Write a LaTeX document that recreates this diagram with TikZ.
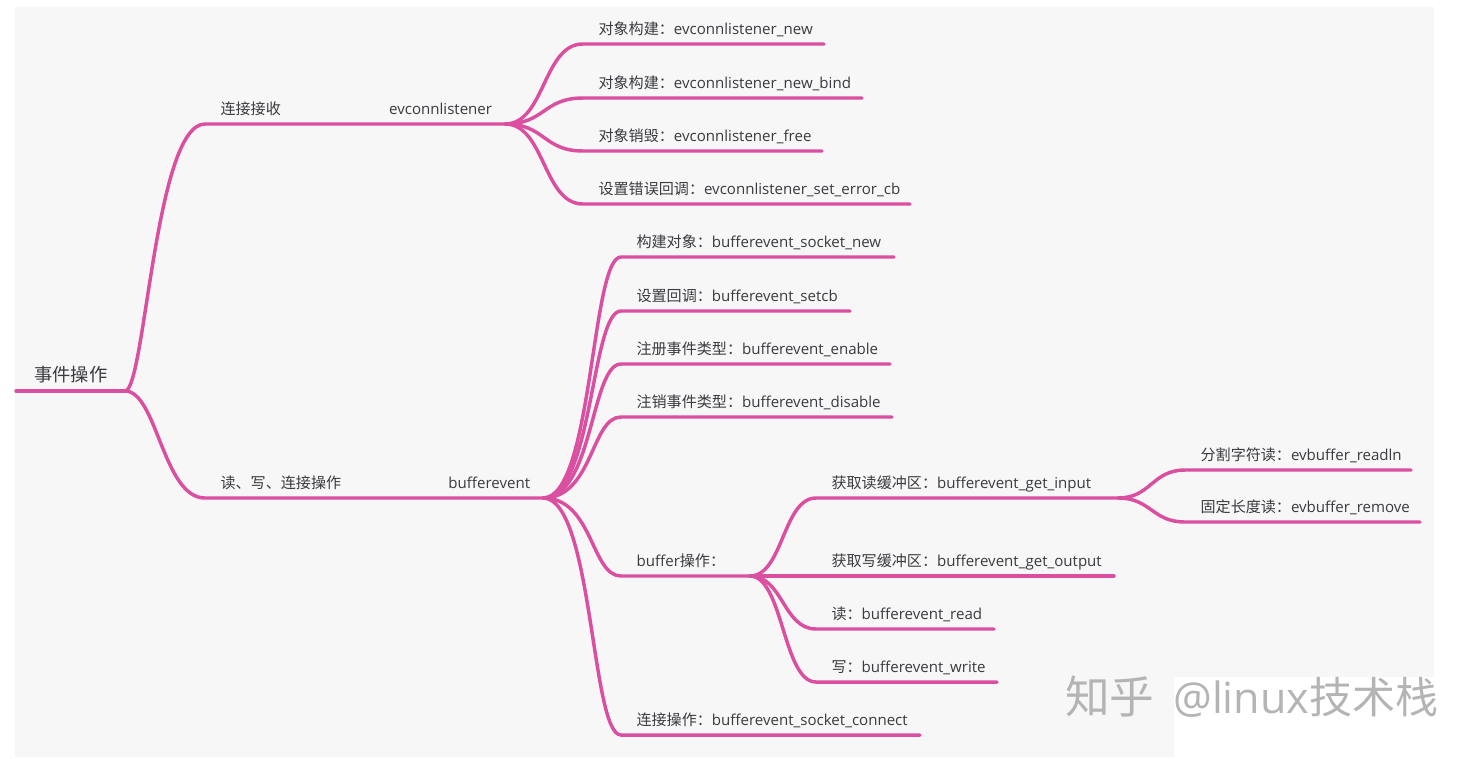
\documentclass[tikz,border=0pt]{standalone}
\usepackage{fontspec}
\setmainfont{Open Sans}
\newfontfamily\cjk{Noto Sans CJK SC}
\usetikzlibrary{positioning}
\definecolor{branchpink}{HTML}{DB4FA0}
\definecolor{panelgray}{HTML}{F7F7F7}
\definecolor{inkgray}{HTML}{3A3A40}
\definecolor{markgray}{HTML}{B4B4B4}

\begin{document}
\begin{tikzpicture}[x=0.75pt, y=-0.75pt, node distance=4.2pt and 11.5pt]
      \tikzstyle{topic} = [inner sep=0pt, text height=9pt, text depth=3pt, text=inkgray, font=\fontsize{11.3pt}{13pt}\selectfont]
      \tikzstyle{rootic} = [inner sep=0pt, text height=11pt, text depth=3pt, text=inkgray, font=\fontsize{13.7pt}{16pt}\selectfont]
      \tikzstyle{branch} = [line width=2.6pt, draw=branchpink, line cap=round]
      \tikzstyle{watermark} = [inner sep=0pt, anchor=west, text=markgray, font=\fontsize{32.3pt}{36pt}\selectfont]

      \useasboundingbox (0,0) rectangle (1476,758);
      \fill [panelgray] (15,7) -- (1434,7) -- (1434,677) -- (1174,677) -- (1174,757) -- (15,757) -- cycle;

      % root
      \coordinate (rootleft) at (16,391);
      \coordinate (root) at (125,391);
      \node (event) [rootic, above right=4.2pt and 13.5pt of rootleft] {\cjk 事件操作};
      \draw [branch] (rootleft) -- (root);

      % first level
      \coordinate (linkstart) at (205,124);
      \coordinate (linkfork) at (505,124);
      \coordinate (rwstart) at (205,498);
      \coordinate (rwfork) at (543,498);
      \node (link) [topic, above right= of linkstart] {\cjk 连接接收};
      \node (listener) [topic, above left=4.2pt and 9.5pt of linkfork] {evconnlistener};
      \node (rw) [topic, above right= of rwstart] {\cjk 读、写、连接操作};
      \node (bev) [topic, above left=4.2pt and 9.5pt of rwfork] {bufferevent};
      \draw [branch] (root) .. controls +(20,0) and +(-50,0) .. (linkstart) -- (linkfork);
      \draw [branch] (root) .. controls +(32,0) and +(-42,0) .. (rwstart) -- (rwfork);

      % evconnlistener
      \coordinate (newstart) at (583,44);
      \coordinate (newend) at (824,44);
      \coordinate (bindstart) at (583,98);
      \coordinate (bindend) at (862,98);
      \coordinate (freestart) at (583,151);
      \coordinate (freeend) at (822,151);
      \coordinate (errstart) at (583,204);
      \coordinate (errend) at (910,204);
      \node (new) [topic, above right= of newstart] {{\cjk 对象构建：}evconnlistener\_new};
      \node (bind) [topic, above right= of bindstart] {{\cjk 对象构建：}evconnlistener\_new\_bind};
      \node (free) [topic, above right= of freestart] {{\cjk 对象销毁：}evconnlistener\_free};
      \node (err) [topic, above right= of errstart] {{\cjk 设置错误回调：}evconnlistener\_set\_error\_cb};
      \draw [branch] (linkfork) .. controls +(40,0) and +(-40,0) .. (newstart) -- (newend);
      \draw [branch] (linkfork) .. controls +(40,0) and +(-40,0) .. (bindstart) -- (bindend);
      \draw [branch] (linkfork) .. controls +(40,0) and +(-40,0) .. (freestart) -- (freeend);
      \draw [branch] (linkfork) .. controls +(40,0) and +(-40,0) .. (errstart) -- (errend);

      % bufferevent
      \coordinate (sockstart) at (621,257);
      \coordinate (sockend) at (894,257);
      \coordinate (setcbstart) at (621,311);
      \coordinate (setcbend) at (850,311);
      \coordinate (enablestart) at (621,364);
      \coordinate (enableend) at (890,364);
      \coordinate (disablestart) at (621,417);
      \coordinate (disableend) at (892,417);
      \coordinate (bufstart) at (621,576);
      \coordinate (buffork) at (750,576);
      \coordinate (connstart) at (621,735);
      \coordinate (connend) at (920,735);
      \node (sock) [topic, above right= of sockstart] {{\cjk 构建对象：}bufferevent\_socket\_new};
      \node (setcb) [topic, above right= of setcbstart] {{\cjk 设置回调：}bufferevent\_setcb};
      \node (enable) [topic, above right= of enablestart] {{\cjk 注册事件类型：}bufferevent\_enable};
      \node (disable) [topic, above right= of disablestart] {{\cjk 注销事件类型：}bufferevent\_disable};
      \node (buf) [topic, above right= of bufstart] {buffer{\cjk 操作：}};
      \node (conn) [topic, above right= of connstart] {{\cjk 连接操作：}bufferevent\_socket\_connect};
      \draw [branch] (rwfork) .. controls +(50,0) and +(-30,0) .. (sockstart) -- (sockend);
      \draw [branch] (rwfork) .. controls +(50,0) and +(-30,0) .. (setcbstart) -- (setcbend);
      \draw [branch] (rwfork) .. controls +(50,0) and +(-30,0) .. (enablestart) -- (enableend);
      \draw [branch] (rwfork) .. controls +(50,0) and +(-30,0) .. (disablestart) -- (disableend);
      \draw [branch] (rwfork) .. controls +(50,0) and +(-30,0) .. (bufstart) -- (buffork);
      \draw [branch] (rwfork) .. controls +(50,0) and +(-30,0) .. (connstart) -- (connend);

      % buffer
      \coordinate (inputstart) at (816,498);
      \coordinate (inputfork) at (1118,498);
      \coordinate (outputstart) at (816,576);
      \coordinate (outputend) at (1114,576);
      \coordinate (readstart) at (816,629);
      \coordinate (readend) at (994,629);
      \coordinate (writestart) at (816,682);
      \coordinate (writeend) at (997,682);
      \node (input) [topic, above right= of inputstart] {{\cjk 获取读缓冲区：}bufferevent\_get\_input};
      \node (output) [topic, above right= of outputstart] {{\cjk 获取写缓冲区：}bufferevent\_get\_output};
      \node (read) [topic, above right= of readstart] {{\cjk 读：}bufferevent\_read};
      \node (write) [topic, above right= of writestart] {{\cjk 写：}bufferevent\_write};
      \draw [branch] (buffork) .. controls +(33,0) and +(-33,0) .. (inputstart) -- (inputfork);
      \draw [branch] (buffork) -- (outputstart) -- (outputend);
      \draw [branch] (buffork) .. controls +(33,0) and +(-33,0) .. (readstart) -- (readend);
      \draw [branch] (buffork) .. controls +(33,0) and +(-33,0) .. (writestart) -- (writeend);

      % evbuffer
      \coordinate (readlnstart) at (1185,470);
      \coordinate (readlnend) at (1411,470);
      \coordinate (removestart) at (1185,522);
      \coordinate (removeend) at (1420,522);
      \node (readln) [topic, above right= of readlnstart] {{\cjk 分割字符读：}evbuffer\_readln};
      \node (remove) [topic, above right= of removestart] {{\cjk 固定长度读：}evbuffer\_remove};
      \draw [branch] (inputfork) .. controls +(33,0) and +(-33,0) .. (readlnstart) -- (readlnend);
      \draw [branch] (inputfork) .. controls +(33,0) and +(-33,0) .. (removestart) -- (removeend);

      % mark
      \node (zhihu) [watermark, font=\fontsize{33.5pt}{36pt}\selectfont] at (1065,697) {\cjk 知乎};
      \node (account) [watermark] at (1173,697) {@linux{\cjk 技术栈}};
\end{tikzpicture}
\end{document}
